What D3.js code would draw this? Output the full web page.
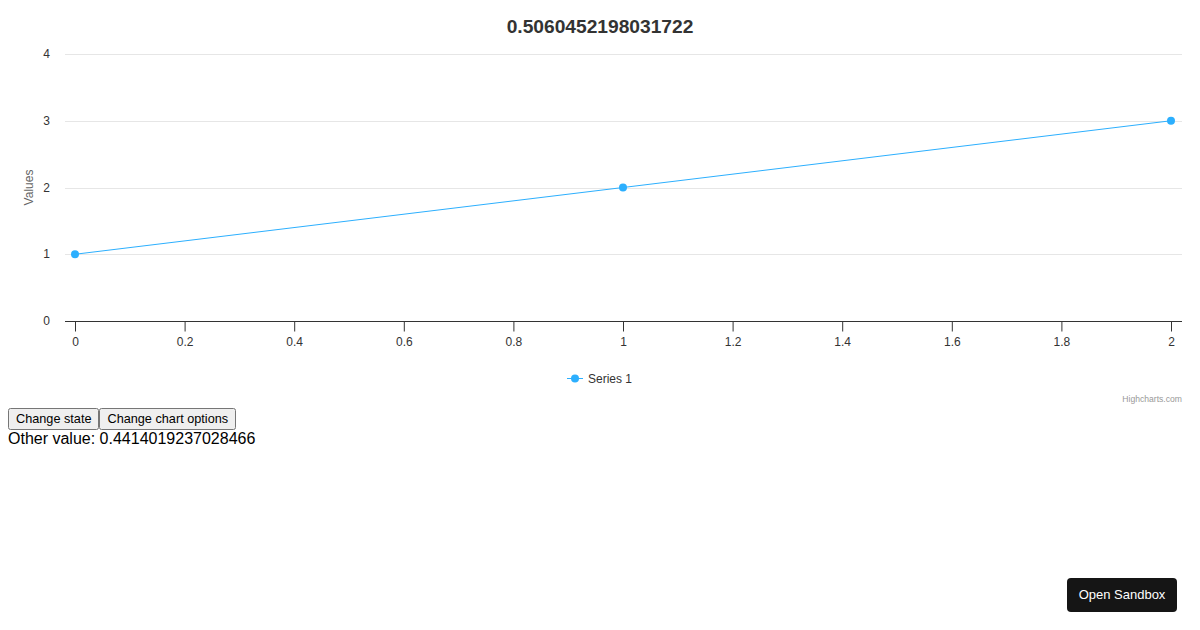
<!DOCTYPE html>
<html>
<head>
<meta charset="utf-8">
<script src="https://cdn.jsdelivr.net/npm/d3@7"></script>
<style>
  body { margin: 8px; font-family: "Liberation Sans", Arial, sans-serif; background: #fff; }
  #chart { width: 1184px; height: 400px; }
  button.native { font-family: "Liberation Sans", Arial, sans-serif; font-size: 12.7px; padding: 1px 6px; margin: 0; height: 22px; }
  #other { font-size: 16px; color: #000; }
  #sandbox { position: absolute; left: 1067px; top: 578px; width: 110px; height: 34px; background: #151515;
    color: #fff; border-radius: 4px; font-size: 13px; line-height: 34px; text-align: center; }
</style>
</head>
<body>
<div id="chart"></div>
<div><button class="native">Change state</button><button class="native">Change chart options</button></div>
<div id="other"></div>
<div id="sandbox">Open Sandbox</div>
<script>
// Data
var titleText = "0.5060452198031722",
    otherValue = "0.4414019237028466",
    seriesName = "Series 1";
var xValues = [0, 1, 2],
    yValues = [1, 2, 3];
var xTicks = [0, 0.2, 0.4, 0.6, 0.8, 1, 1.2, 1.4, 1.6, 1.8, 2],
    yTicks = [0, 1, 2, 3, 4];

var W = 1184, H = 400,
    plotLeft = 57, plotRight = 1174, plotTop = 46, plotBottom = 313;

var svg = d3.select("#chart").append("svg")
  .attr("width", W).attr("height", H)
  .style("font-family", "'Liberation Sans', Arial, Helvetica, sans-serif");

var x = d3.scaleLinear().domain([0, 2]).range([67, 1163]);
var y = d3.scaleLinear().domain([0, 4]).range([plotBottom, plotTop]);

// title
svg.append("text").attr("x", W / 2).attr("y", 25).attr("text-anchor", "middle")
  .style("font-size", "19.2px").style("font-weight", "bold").style("fill", "#333")
  .text(titleText);

// grid
svg.append("g").selectAll("line").data(yTicks.filter(function(d){return d > 0})).enter().append("line")
  .attr("x1", plotLeft).attr("x2", plotRight)
  .attr("y1", function(d){return Math.round(y(d)) + 0.5}).attr("y2", function(d){return Math.round(y(d)) + 0.5})
  .style("stroke", "#e6e6e6").style("stroke-width", 1);

// y labels
svg.append("g").selectAll("text").data(yTicks).enter().append("text")
  .attr("x", 42).attr("y", function(d){return y(d) + 4})
  .attr("text-anchor", "end").style("font-size", "12px").style("fill", "#333")
  .text(function(d){return d});

svg.append("text").attr("transform", "translate(25," + ((plotTop + plotBottom) / 2) + ")rotate(-90)")
  .attr("text-anchor", "middle").style("font-size", "12px").style("fill", "#666")
  .text("Values");

// x axis
var xAxis = d3.axisBottom(x).tickValues(xTicks).tickSize(10).tickPadding(6)
  .tickFormat(function(d){return d3.format("~g")(d)});
var gx = svg.append("g").attr("transform", "translate(0," + (plotBottom + 0.5) + ")").call(xAxis);
gx.select(".domain").remove();
gx.append("line").attr("x1", plotLeft).attr("x2", plotRight).attr("y1", 0).attr("y2", 0)
  .style("stroke", "#333").style("stroke-width", 1);
gx.selectAll(".tick line").style("stroke", "#333");
gx.selectAll(".tick text").style("font-size", "12px").style("fill", "#333")
  .style("font-family", "'Liberation Sans', Arial, sans-serif");

// series
var pts = xValues.map(function(d, i){return [d, yValues[i]]});
var line = d3.line().x(function(d){return x(d[0])}).y(function(d){return y(d[1])});
svg.append("path").datum(pts).attr("d", line)
  .style("fill", "none").style("stroke", "#2caffe").style("stroke-width", 1);
svg.append("g").selectAll("circle").data(pts).enter().append("circle")
  .attr("cx", function(d){return x(d[0])}).attr("cy", function(d){return y(d[1])}).attr("r", 4)
  .style("fill", "#2caffe");

// legend
var lg = svg.append("g").attr("transform", "translate(559,370)");
lg.append("line").attr("x1", 0).attr("x2", 16).attr("y1", 0.5).attr("y2", 0.5)
  .style("stroke", "#2caffe").style("stroke-width", 1);
lg.append("circle").attr("cx", 8).attr("cy", 0.5).attr("r", 4).style("fill", "#2caffe");
lg.append("text").attr("x", 21).attr("y", 4.5).style("font-size", "12px").style("fill", "#333")
  .text(seriesName);

// credits
svg.append("text").attr("x", 1174).attr("y", 394).attr("text-anchor", "end")
  .style("font-size", "8.6px").style("fill", "#999").text("Highcharts.com");

d3.select("#other").text("Other value: " + otherValue);
</script>
</body>
</html>
